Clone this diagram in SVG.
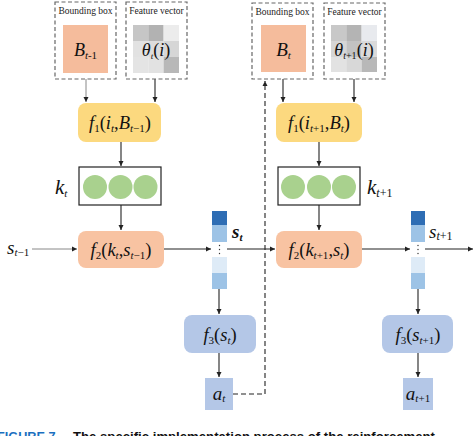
<svg xmlns="http://www.w3.org/2000/svg" width="474" height="436" viewBox="0 0 474 436">
<style>
.dash{fill:#fff;stroke:#666;stroke-width:1.2;stroke-dasharray:4 2.5}
.ln{stroke:#222;stroke-width:1.1;fill:none}
.lng{stroke:#888;stroke-width:1;fill:none}
.m{font-family:"Liberation Serif","Times New Roman",serif;font-style:italic;fill:#111}
.u{font-style:normal}
.sm{font-family:"Liberation Serif","Times New Roman",serif;font-size:9.5px;fill:#222}
.f1{fill:#fcd97f}
.f2{fill:#f8c3a2}
.f3{fill:#b4c7e7}
.bb{fill:#f5bc9c}
.kb{fill:#fff;stroke:#222;stroke-width:1.2}
.c{fill:#a9d18e}
.cap{font-family:"Liberation Sans",Arial,sans-serif;font-weight:bold;font-size:13px}
</style>
<defs>
<marker id="ah" markerWidth="6" markerHeight="6" refX="5" refY="3" orient="auto" markerUnits="userSpaceOnUse">
<path d="M0,0.5 L5,3 L0,5.5 Z" fill="#222"/>
</marker>
</defs>

<g id="connectors">
<line class="lng" x1="86" y1="79" x2="86" y2="102" marker-end="url(#ah)"/>
<line class="ln" x1="155" y1="79" x2="155" y2="102" marker-end="url(#ah)"/>
<line class="ln" x1="121" y1="142" x2="121" y2="166" marker-end="url(#ah)"/>
<line class="ln" x1="121" y1="205" x2="121" y2="230" marker-end="url(#ah)"/>
<line class="lng" x1="32" y1="249" x2="77" y2="249" marker-end="url(#ah)"/>
<line class="ln" x1="164" y1="249" x2="211" y2="249" marker-end="url(#ah)"/>
<line class="ln" x1="227" y1="249" x2="275" y2="249" marker-end="url(#ah)"/>
<line class="ln" x1="219" y1="289" x2="219" y2="314" marker-end="url(#ah)"/>
<line class="ln" x1="219" y1="353" x2="219" y2="377" marker-end="url(#ah)"/>
<polyline class="ln" points="233,394 265,394 265,81" stroke-dasharray="5 3" marker-end="url(#ah)"/>
<line class="ln" x1="283" y1="79" x2="283" y2="102" marker-end="url(#ah)"/>
<line class="ln" x1="354" y1="79" x2="354" y2="102" marker-end="url(#ah)"/>
<line class="ln" x1="319" y1="142" x2="319" y2="166" marker-end="url(#ah)"/>
<line class="ln" x1="319" y1="205" x2="319" y2="230" marker-end="url(#ah)"/>
<line class="ln" x1="362" y1="249" x2="410" y2="249" marker-end="url(#ah)"/>
<line class="ln" x1="425" y1="249" x2="473" y2="249" marker-end="url(#ah)"/>
<line class="ln" x1="418" y1="289" x2="418" y2="314" marker-end="url(#ah)"/>
<line class="ln" x1="418" y1="353" x2="418" y2="377" marker-end="url(#ah)"/>
</g>

<g id="bbox-left">
<rect class="dash" x="55" y="2" width="61" height="77"/>
<text class="sm" x="85.5" y="14" text-anchor="middle">Bounding box</text>
<rect class="bb" x="63" y="25" width="45" height="48"/>
<text class="m" x="85.5" y="56" text-anchor="middle" font-size="18">B<tspan font-size="11" dy="3">t</tspan><tspan class="u" font-size="11">-1</tspan></text>
</g>

<g id="feat-left">
<rect class="dash" x="126" y="2" width="61" height="77"/>
<text class="sm" x="156.5" y="14" text-anchor="middle">Feature vector</text>
<rect x="133" y="25" width="15.3" height="16" fill="#c6c6c6"/>
<rect x="148.3" y="25" width="15.3" height="16" fill="#b2b2b2"/>
<rect x="163.6" y="25" width="15.4" height="16" fill="#ececec"/>
<rect x="133" y="41" width="15.3" height="16" fill="#e2e2e2"/>
<rect x="148.3" y="41" width="15.3" height="16" fill="#dcdcdc"/>
<rect x="163.6" y="41" width="15.4" height="16" fill="#d6d6d6"/>
<rect x="133" y="57" width="15.3" height="16" fill="#e4e4e4"/>
<rect x="148.3" y="57" width="15.3" height="16" fill="#e2e2e2"/>
<rect x="163.6" y="57" width="15.4" height="16" fill="#b8b8b8"/>
<text class="m" x="156" y="56" text-anchor="middle" font-size="18">θ<tspan font-size="9" dy="3">t</tspan><tspan class="u" dy="-3">(</tspan>i<tspan class="u">)</tspan></text>
</g>

<g id="f1-left">
<rect class="f1" x="78" y="103" width="83" height="39" rx="8"/>
<text class="m" x="120" y="129" text-anchor="middle" font-size="18.5">f<tspan class="u" font-size="11" dy="3">1</tspan><tspan class="u" dy="-3">(</tspan>i<tspan font-size="11" dy="3">t</tspan><tspan class="u" dy="-3">,</tspan>B<tspan font-size="11" dy="3">t</tspan><tspan class="u" font-size="11">−1</tspan><tspan class="u" dy="-3">)</tspan></text>
</g>

<g id="k-left">
<rect class="kb" x="79" y="167" width="82" height="38"/>
<circle class="c" cx="95" cy="187" r="12"/>
<circle class="c" cx="120.5" cy="187" r="12"/>
<circle class="c" cx="145.5" cy="187" r="12"/>
<text class="m" x="55" y="194" font-size="21">k<tspan font-size="11" dy="3">t</tspan></text>
</g>

<g id="f2-left">
<rect class="f2" x="78" y="231" width="86" height="37" rx="8"/>
<text class="m" x="121" y="256" text-anchor="middle" font-size="18.5">f<tspan class="u" font-size="11" dy="3">2</tspan><tspan class="u" dy="-3">(</tspan>k<tspan font-size="11" dy="3">t</tspan><tspan class="u" dy="-3">,</tspan>s<tspan font-size="11" dy="3">t</tspan><tspan class="u" font-size="11">−1</tspan><tspan class="u" dy="-3">)</tspan></text>
<text class="m" x="7" y="254" font-size="19">s<tspan font-size="11" dy="2">t</tspan><tspan class="u" font-size="11">−1</tspan></text>
</g>

<g id="vec-left">
<rect x="212" y="211" width="15" height="14" fill="#2e6db4"/>
<rect x="212" y="225" width="15" height="17" fill="#9dc3e6"/>
<rect x="212" y="242" width="15" height="15" fill="#fff"/>
<rect x="212" y="257" width="15" height="16" fill="#deebf7"/>
<rect x="212" y="273" width="15" height="16" fill="#9dc3e6"/>
<circle cx="219.5" cy="245.5" r="0.7" fill="#333"/>
<circle cx="219.5" cy="249.5" r="0.7" fill="#333"/>
<circle cx="219.5" cy="253.5" r="0.7" fill="#333"/>
<text class="m" x="232" y="238" font-size="19" font-weight="bold">s<tspan font-size="11" dy="3">t</tspan></text>
</g>

<g id="f3-left">
<rect class="f3" x="184" y="315" width="72" height="38" rx="8"/>
<text class="m" x="220" y="341" text-anchor="middle" font-size="18.5">f<tspan class="u" font-size="11" dy="3">3</tspan><tspan class="u" dy="-3">(</tspan>s<tspan font-size="11" dy="3">t</tspan><tspan class="u" dy="-3">)</tspan></text>
</g>

<g id="a-left">
<rect class="f3" x="205" y="378" width="28" height="32"/>
<text class="m" x="219" y="400" text-anchor="middle" font-size="19">a<tspan font-size="11" dy="2">t</tspan></text>
</g>

<g id="bbox-right">
<rect class="dash" x="252" y="3" width="61" height="76"/>
<text class="sm" x="282.5" y="15" text-anchor="middle">Bounding box</text>
<rect class="bb" x="261" y="25" width="45" height="47"/>
<text class="m" x="283.5" y="56" text-anchor="middle" font-size="19">B<tspan font-size="11" dy="3">t</tspan></text>
</g>

<g id="feat-right">
<rect class="dash" x="324" y="3" width="61" height="76"/>
<text class="sm" x="354.5" y="15" text-anchor="middle">Feature vector</text>
<rect x="331" y="25" width="15.3" height="16" fill="#c8c8c8"/>
<rect x="346.3" y="25" width="15.3" height="16" fill="#b4b4b4"/>
<rect x="361.6" y="25" width="15.4" height="16" fill="#e8eaee"/>
<rect x="331" y="41" width="15.3" height="16" fill="#d6d6d6"/>
<rect x="346.3" y="41" width="15.3" height="16" fill="#c2c2c2"/>
<rect x="361.6" y="41" width="15.4" height="16" fill="#dadada"/>
<rect x="331" y="57" width="15.3" height="15" fill="#e2e2e2"/>
<rect x="346.3" y="57" width="15.3" height="15" fill="#d8d8d8"/>
<rect x="361.6" y="57" width="15.4" height="15" fill="#b8b8b8"/>
<text class="m" x="354" y="56" text-anchor="middle" font-size="18">θ<tspan font-size="10" dy="3">t</tspan><tspan class="u" font-size="10">+1</tspan><tspan class="u" dy="-3">(</tspan>i<tspan class="u">)</tspan></text>
</g>

<g id="f1-right">
<rect class="f1" x="276" y="103" width="86" height="39" rx="8"/>
<text class="m" x="319" y="129" text-anchor="middle" font-size="18.5">f<tspan class="u" font-size="11" dy="3">1</tspan><tspan class="u" dy="-3">(</tspan>i<tspan font-size="11" dy="3">t</tspan><tspan class="u" font-size="11">+1</tspan><tspan class="u" dy="-3">,</tspan>B<tspan font-size="11" dy="3">t</tspan><tspan class="u" dy="-3">)</tspan></text>
</g>

<g id="k-right">
<rect class="kb" x="278" y="167" width="82" height="38"/>
<circle class="c" cx="293" cy="187" r="12"/>
<circle class="c" cx="319" cy="187" r="12"/>
<circle class="c" cx="344" cy="187" r="12"/>
<text class="m" x="367" y="194" font-size="21">k<tspan font-size="12" dy="3">t</tspan><tspan class="u" font-size="12">+1</tspan></text>
</g>

<g id="f2-right">
<rect class="f2" x="276" y="231" width="86" height="37" rx="8"/>
<text class="m" x="319" y="256" text-anchor="middle" font-size="18.5">f<tspan class="u" font-size="11" dy="3">2</tspan><tspan class="u" dy="-3">(</tspan>k<tspan font-size="11" dy="3">t</tspan><tspan class="u" font-size="11">+1</tspan><tspan class="u" dy="-3">,</tspan>s<tspan font-size="11" dy="3">t</tspan><tspan class="u" dy="-3">)</tspan></text>
</g>

<g id="vec-right">
<rect x="411" y="211" width="14" height="14" fill="#2e6db4"/>
<rect x="411" y="225" width="14" height="17" fill="#9dc3e6"/>
<rect x="411" y="242" width="14" height="15" fill="#fff"/>
<rect x="411" y="257" width="14" height="16" fill="#deebf7"/>
<rect x="411" y="273" width="14" height="16" fill="#9dc3e6"/>
<circle cx="418" cy="245.5" r="0.7" fill="#333"/>
<circle cx="418" cy="249.5" r="0.7" fill="#333"/>
<circle cx="418" cy="253.5" r="0.7" fill="#333"/>
<text class="m" x="429" y="238" font-size="19">s<tspan font-size="12" dy="2">t</tspan><tspan class="u" font-size="12">+1</tspan></text>
</g>

<g id="f3-right">
<rect class="f3" x="382" y="315" width="71" height="38" rx="8"/>
<text class="m" x="418" y="341" text-anchor="middle" font-size="18.5">f<tspan class="u" font-size="11" dy="3">3</tspan><tspan class="u" dy="-3">(</tspan>s<tspan font-size="11" dy="3">t</tspan><tspan class="u" font-size="11">+1</tspan><tspan class="u" dy="-3">)</tspan></text>
</g>

<g id="a-right">
<rect class="f3" x="403" y="378" width="30" height="32"/>
<text class="m" x="418" y="400" text-anchor="middle" font-size="19">a<tspan font-size="11" dy="2">t</tspan><tspan class="u" font-size="11">+1</tspan></text>
</g>

<g id="caption">
<text class="cap" x="-3" y="441" fill="#1a6fc0" textLength="62" lengthAdjust="spacingAndGlyphs">FIGURE 7.</text>
<text class="cap" x="73" y="441" fill="#111" textLength="362" lengthAdjust="spacingAndGlyphs">The specific implementation process of the reinforcement</text>
</g>
</svg>
